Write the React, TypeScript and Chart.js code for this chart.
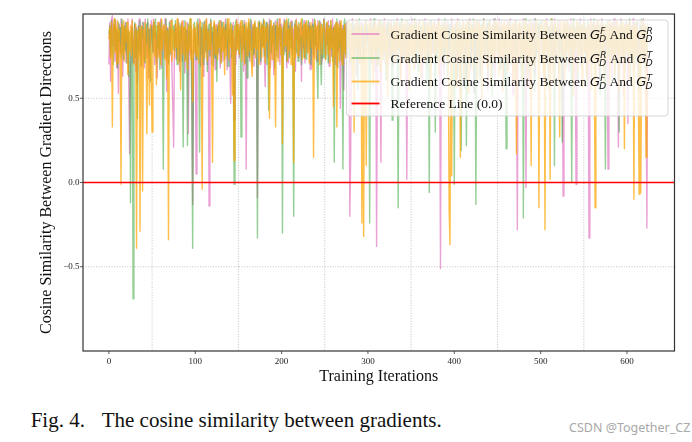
import React, { useEffect, useRef } from "react";
import { Chart, registerables } from "chart.js";

Chart.register(...registerables);

// Values are cosine similarity x100, one per training iteration (0..624)
const pinkFR: number[] = [
  70,95,60,97,99,81,93,72,96,68,89,53,94,77,97,84,63,92,79,95,71,88,97,58,17,
  64,88,97,71,83,94,66,92,59,86,97,75,90,69,95,82,68,97,88,74,95,62,91,80,96,
  93,78,97,70,89,84,62,95,76,91,97,68,85,93,74,97,80,54,92,71,87,96,78,68,45,
  21,88,94,73,92,97,79,66,90,95,72,96,84,65,91,78,95,29,90,76,93,68,-13,77,91,
  86,5,74,94,81,97,69,92,85,63,95,77,88,97,70,91,-14,82,96,70,89,75,93,67,94,
  93,76,95,81,68,96,86,72,92,79,97,84,67,90,94,73,47,90,78,95,37,86,70,97,81,
  90,74,95,84,77,93,66,96,82,8,91,75,94,72,88,96,79,92,69,94,85,73,-9,90,95,
  87,70,93,81,96,76,57,92,95,74,88,97,68,78,93,82,64,91,96,75,92,84,97,70,91,
  94,73,89,97,78,90,68,95,71,93,85,96,76,91,79,94,66,97,85,92,74,82,95,60,93,
  80,96,71,88,93,77,90,95,67,92,68,97,83,74,94,89,72,96,80,92,95,70,73,90,97,
  91,75,94,82,96,69,90,93,75,97,81,92,70,95,69,88,78,96,44,91,93,72,55,94,79,
  95,76,91,84,-20,15,92,97,73,94,81,90,63,96,77,93,70,95,82,91,72,94,79,96,83,
  90,78,94,97,71,92,84,95,66,91,-38,80,93,96,74,12,90,77,94,97,70,92,85,95,70,
  93,75,96,82,69,91,95,74,92,97,79,90,94,62,88,96,73,83,93,77,2,89,95,71,92,
  88,97,74,91,93,68,95,80,86,96,71,92,90,57,94,78,97,83,69,95,73,90,84,96,76,
  92,77,95,86,70,94,81,97,83,-51,91,95,72,64,93,79,96,82,71,94,76,90,97,74,92,
  88,95,61,92,97,74,90,49,94,79,96,72,91,83,58,95,73,93,97,66,90,78,94,53,92,
  95,72,91,80,96,63,93,77,85,97,70,92,79,94,55,91,96,74,89,93,68,97,62,90,94,
  86,73,97,75,90,94,81,59,95,78,84,96,70,67,93,97,76,91,52,94,80,96,72,-28,90,
  95,78,93,68,91,97,74,90,-3,94,81,96,57,92,76,95,81,70,97,64,90,77,94,86,73,
  92,96,75,90,62,94,79,97,70,91,93,56,85,95,74,92,97,70,83,87,94,60,96,78,83,
  88,-8,93,96,72,91,80,95,66,92,97,76,90,58,94,83,-1,95,73,93,79,97,68,85,92,
  96,77,91,63,94,81,-33,92,97,74,90,95,72,93,80,96,71,91,55,94,78,97,86,92,68,
  93,79,85,8,91,96,74,94,61,92,97,76,90,74,95,21,81,93,97,70,91,52,94,78,96,
  90,35,92,96,75,93,82,97,67,91,94,77,95,58,90,96,72,93,79,97,71,92,84,-27,90,
];

const greenRT: number[] = [
  88,93,75,96,82,70,94,97,79,91,68,95,84,92,74,97,90,73,93,78,95,71,91,63,89,
  -12,87,92,-69,80,95,74,91,38,93,78,96,69,92,86,95,73,71,94,82,97,76,91,60,93,
  90,77,95,86,97,71,93,80,94,67,91,96,75,8,90,82,97,74,91,70,95,76,92,97,79,
  93,78,96,84,70,87,95,72,90,94,76,21,92,96,73,90,22,94,81,97,86,45,-39,79,95,
  88,73,93,97,81,18,92,76,95,70,91,96,78,93,66,90,94,75,97,82,92,69,95,74,91,
  60,93,77,96,84,71,95,87,92,73,94,80,97,69,91,83,95,74,93,70,-1,92,96,78,94,
  90,76,93,27,91,96,79,94,71,92,62,89,95,74,97,84,70,93,76,95,81,92,-33,90,96,
  89,72,94,81,97,75,90,95,70,93,43,91,96,77,92,83,95,68,93,79,97,74,92,94,81,
  91,-30,93,76,96,85,72,90,97,74,93,80,95,69,-20,91,96,77,93,72,95,82,87,70,97,
  86,74,92,95,73,91,96,79,93,70,90,94,76,97,81,92,71,50,93,96,78,58,94,74,97,
  84,73,95,88,71,93,79,96,86,72,92,12,94,78,97,68,92,80,95,73,91,8,93,97,76,
  92,74,95,83,70,94,79,96,91,72,93,78,95,55,90,97,74,92,81,94,71,91,96,76,93,
  90,76,-24,92,95,73,93,97,78,91,69,94,70,92,96,77,91,95,73,90,82,61,94,75,96,
  91,74,94,37,90,96,76,93,85,70,-15,95,79,92,97,72,90,94,78,73,93,96,71,91,95,
  89,75,93,86,97,71,95,80,66,92,96,74,93,79,91,95,72,92,58,94,80,-6,96,77,93,
  91,77,95,30,92,72,96,84,71,93,88,75,94,70,97,76,92,63,95,79,93,73,96,82,91,
  -1,93,78,95,62,91,96,73,19,92,80,95,56,93,22,90,96,74,92,68,94,79,97,53,91,
  -13,92,96,74,90,59,94,78,93,97,72,91,80,95,64,92,96,75,90,51,94,77,97,83,91,
  95,76,92,67,96,80,86,93,57,91,20,94,74,96,84,92,70,95,78,87,93,61,96,75,92,
  88,94,73,58,95,-21,92,97,76,91,93,65,80,96,71,84,94,79,54,97,74,91,95,71,93,
  90,96,75,93,62,91,95,78,94,55,92,74,97,74,90,93,10,95,77,92,96,66,91,80,86,
  24,92,95,76,93,68,96,80,87,94,73,0,93,97,75,92,81,95,60,91,96,74,93,77,94,
  90,95,74,92,57,96,79,93,91,70,94,76,97,63,92,80,95,73,93,52,91,96,78,94,72,
  8,93,96,75,91,94,72,90,95,77,92,59,96,79,93,71,30,94,80,96,74,92,90,66,95,
  91,76,94,97,62,90,93,74,95,81,70,92,96,78,55,93,80,97,73,91,94,68,92,77,95,
];

const orangeFT: number[] = [
  85,92,74,95,33,90,97,77,93,70,96,71,91,80,-1,94,76,96,72,92,84,95,64,90,78,
  93,75,96,83,70,87,94,-39,90,74,92,-29,78,93,-5,91,72,95,80,29,92,76,46,94,73,
  30,91,96,75,93,58,82,95,74,92,70,97,79,91,94,73,93,62,90,-34,92,77,96,72,91,
  89,74,94,80,97,71,90,93,55,91,96,76,92,72,95,81,67,93,78,97,73,91,48,94,77,
  92,75,95,80,71,93,96,77,-4,91,94,74,92,97,72,90,79,88,95,70,12,91,96,76,93,
  86,73,94,80,96,71,92,78,95,64,91,75,93,97,73,92,80,94,52,90,13,93,76,96,79,
  94,76,92,96,72,91,93,70,90,95,75,92,97,78,91,71,63,94,80,96,74,92,79,95,70,
  91,95,74,93,80,96,71,92,84,94,75,38,92,96,73,91,94,78,33,90,95,72,93,97,76,
  92,23,76,95,81,93,97,72,91,78,95,70,92,84,12,93,74,96,91,75,94,79,92,97,73,
  90,94,74,92,96,77,93,71,91,95,80,92,15,90,96,73,93,79,95,70,91,94,76,92,96,
  88,73,90,95,76,92,71,96,80,91,45,93,75,95,33,90,94,72,92,96,70,91,77,94,74,
  93,76,95,80,91,72,94,62,90,30,92,96,74,91,94,71,90,93,-24,78,-32,91,95,10,79,
  94,75,92,96,72,91,58,93,77,95,70,92,81,96,66,91,94,73,93,78,95,71,87,51,92,
  89,95,72,92,78,94,71,91,96,74,93,80,92,60,95,76,91,94,72,96,82,70,93,55,91,
  94,76,92,67,96,73,87,93,78,95,84,62,92,74,96,79,71,94,73,91,95,77,92,57,93,
  90,95,74,92,78,94,91,64,96,75,93,70,92,95,80,91,73,94,76,-16,-37,90,4,93,78,
  94,76,56,92,96,73,91,15,93,77,95,62,90,94,74,96,53,91,75,95,84,92,67,90,96,
  88,93,60,91,95,75,92,49,94,73,96,85,77,68,93,79,95,58,92,74,94,72,90,96,76,
  92,95,63,90,75,94,54,91,96,73,93,80,66,95,77,92,72,94,59,91,96,78,17,93,74,
  95,74,92,80,61,94,77,96,72,92,57,93,76,95,10,91,94,73,69,92,96,79,85,-15,93,
  89,94,75,64,96,-28,92,78,95,72,86,2,93,97,76,58,91,95,74,92,94,71,27,90,96,
  91,75,95,60,92,96,77,93,70,91,94,73,92,52,95,79,88,96,65,92,76,94,91,57,93,
  95,77,92,81,62,94,72,87,96,55,92,75,95,-15,91,94,73,96,68,90,93,74,95,59,92,
  90,94,73,92,96,58,91,77,95,72,93,64,90,96,76,92,54,94,80,73,95,91,20,93,78,
  94,76,92,61,96,79,73,93,-10,91,95,75,92,66,-7,90,-6,93,96,74,91,94,15,90,93,
];

const xTickValues = [0, 100, 200, 300, 400, 500, 600];
const xGridValues = [50, 150, 250, 350, 450, 550];
const yTickValues = [-0.5, 0, 0.5];
const yGridValues = [-0.5, 0.5];
const referenceValue = 0;
const xLimits = [-30, 655];
const yLimits = [-1, 1];

const legendPrefix = "Gradient Cosine Similarity Between ";
const legendPairs: [string, string][] = [["F", "R"], ["R", "T"], ["F", "T"]];
const referenceLabel = "Reference Line (0.0)";
const xTitle = "Training Iterations";
const yTitle = "Cosine Similarity Between Gradient Directions";
const captionLabel = "Fig. 4.";
const captionText = "The cosine similarity between gradients.";
const watermarkText = "CSDN @Together_CZ";

const PINK = "rgba(227,119,194,0.7)";
const GREEN = "rgba(44,160,44,0.5)";
const ORANGE = "rgba(255,165,0,0.72)";
const RED = "#ff0000";
const SERIF = '"Liberation Serif", "Times New Roman", Times, serif';
const MATH = '"DejaVu Sans", sans-serif';

const toPoints = (arr: number[]) => arr.map((v, i) => ({ x: i, y: v / 100 }));

function drawMathG(ctx: CanvasRenderingContext2D, x: number, base: number, sup: string) {
  ctx.font = `oblique 13px ${MATH}`;
  ctx.fillText("G", x, base);
  const wG = ctx.measureText("G").width;
  ctx.font = `oblique 9px ${MATH}`;
  ctx.fillText(sup, x + wG + 0.2, base - 4.6);
  ctx.fillText("D", x + wG - 0.8, base + 3.2);
  const w = Math.max(ctx.measureText(sup).width + 0.2, ctx.measureText("D").width - 0.8);
  return wG + w;
}

const decorPlugin = {
  id: "decor",
  beforeDatasetsDraw(chart: any) {
    const { ctx, chartArea } = chart;
    const xs = chart.scales.x;
    const ys = chart.scales.y;
    ctx.save();
    ctx.strokeStyle = "#b4b4b4";
    ctx.lineWidth = 0.8;
    ctx.setLineDash([1, 1.6]);
    for (const v of xGridValues) {
      const px = xs.getPixelForValue(v);
      ctx.beginPath();
      ctx.moveTo(px, chartArea.top);
      ctx.lineTo(px, chartArea.bottom);
      ctx.stroke();
    }
    for (const v of yGridValues) {
      const py = ys.getPixelForValue(v);
      ctx.beginPath();
      ctx.moveTo(chartArea.left, py);
      ctx.lineTo(chartArea.right, py);
      ctx.stroke();
    }
    ctx.restore();
  },
  afterDatasetsDraw(chart: any) {
    const { ctx, chartArea } = chart;
    const xs = chart.scales.x;
    const ys = chart.scales.y;
    const { left, top, right, bottom } = chartArea;
    ctx.save();
    ctx.strokeStyle = "#333333";
    ctx.lineWidth = 1.2;
    ctx.strokeRect(left, top, right - left, bottom - top);
    ctx.lineWidth = 0.8;
    for (const v of xTickValues) {
      const px = xs.getPixelForValue(v);
      ctx.beginPath();
      ctx.moveTo(px, bottom);
      ctx.lineTo(px, bottom + 3);
      ctx.stroke();
    }
    for (const v of yTickValues) {
      const py = ys.getPixelForValue(v);
      ctx.beginPath();
      ctx.moveTo(left - 3, py);
      ctx.lineTo(left, py);
      ctx.stroke();
    }

    // legend
    const textFont = `13.5px ${SERIF}`;
    ctx.font = textFont;
    const prefixW = ctx.measureText(legendPrefix).width;
    const andW = ctx.measureText(" And ").width;
    const mathW = 21;
    const contentW = prefixW + mathW + andW + mathW;
    const boxRight = right - 6.5;
    const boxLeft = boxRight - (5 + 28 + 11 + contentW + 6);
    const boxTop = top + 6;
    const boxH = 96;
    ctx.beginPath();
    ctx.roundRect(boxLeft, boxTop, boxRight - boxLeft, boxH, 3);
    ctx.fillStyle = "rgba(255,255,255,0.8)";
    ctx.fill();
    ctx.strokeStyle = "rgba(204,204,204,0.8)";
    ctx.lineWidth = 1;
    ctx.stroke();

    const baselines = [18.5, 42.5, 66, 88];
    const colors = [PINK, GREEN, ORANGE, RED];
    for (let i = 0; i < 4; i++) {
      const base = boxTop + baselines[i];
      const ly = base - 4.5;
      ctx.strokeStyle = colors[i];
      ctx.lineWidth = 1.8;
      ctx.beginPath();
      ctx.moveTo(boxLeft + 5, ly);
      ctx.lineTo(boxLeft + 33, ly);
      ctx.stroke();
      ctx.fillStyle = "#111";
      ctx.textBaseline = "alphabetic";
      ctx.textAlign = "left";
      let x = boxLeft + 44;
      if (i < 3) {
        ctx.font = textFont;
        ctx.fillText(legendPrefix, x, base);
        x += prefixW;
        x += drawMathG(ctx, x, base, legendPairs[i][0]);
        ctx.font = textFont;
        ctx.fillText(" And ", x, base);
        x += andW;
        drawMathG(ctx, x, base, legendPairs[i][1]);
      } else {
        ctx.font = textFont;
        ctx.fillText(referenceLabel, x, base);
      }
    }
    ctx.restore();
  },
};

export default function App() {
  const ref = useRef<HTMLCanvasElement>(null);
  useEffect(() => {
    if (!ref.current) return;
    const lineDefaults = { borderWidth: 1.4, pointRadius: 0, borderJoinStyle: "round" };
    const chart = new Chart(ref.current, {
      type: "line",
      data: {
        datasets: [
          { label: "FR", data: toPoints(pinkFR), borderColor: PINK, order: 3, ...lineDefaults },
          { label: "RT", data: toPoints(greenRT), borderColor: GREEN, order: 2, ...lineDefaults },
          { label: "FT", data: toPoints(orangeFT), borderColor: ORANGE, order: 1, ...lineDefaults },
          {
            label: referenceLabel,
            data: [{ x: xLimits[0], y: referenceValue }, { x: xLimits[1], y: referenceValue }],
            borderColor: RED, borderWidth: 1.5, pointRadius: 0, order: 0,
          },
        ],
      } as any,
      options: {
        responsive: false,
        devicePixelRatio: 1,
        animation: false,
        events: [],
        layout: { padding: { left: 0, top: 14, right: 17.5, bottom: 0 } },
        plugins: { legend: { display: false }, tooltip: { enabled: false } },
        scales: {
          x: {
            type: "linear",
            min: xLimits[0],
            max: xLimits[1],
            grid: { display: false, drawTicks: false, tickLength: 0 },
            border: { display: false },
            afterBuildTicks: (s: any) => { s.ticks = xTickValues.map((v) => ({ value: v })); },
            afterFit: (s: any) => { s.height = 49; },
            ticks: {
              autoSkip: false, maxRotation: 0, padding: 5.5, color: "#222",
              font: { family: SERIF, size: 9 },
              callback: (v: any) => String(v),
            },
            title: {
              display: true, text: xTitle, color: "#111",
              font: { family: SERIF, size: 16 }, padding: { top: 0, bottom: 14 },
            },
          },
          y: {
            type: "linear",
            min: yLimits[0],
            max: yLimits[1],
            grid: { display: false, drawTicks: false, tickLength: 0 },
            border: { display: false },
            afterBuildTicks: (s: any) => { s.ticks = yTickValues.map((v) => ({ value: v })); },
            afterFit: (s: any) => { s.width = 83; },
            ticks: {
              autoSkip: false, padding: 3.5, color: "#222",
              font: { family: SERIF, size: 9 },
              callback: (v: any) => (v < 0 ? "\u2212" : "") + Math.abs(Number(v)).toFixed(1),
            },
            title: {
              display: true, text: yTitle, color: "#111",
              font: { family: SERIF, size: 16 }, padding: { top: 37.5, bottom: 0 },
            },
          },
        },
      } as any,
      plugins: [decorPlugin],
    });
    return () => chart.destroy();
  }, []);

  const textStyle: React.CSSProperties = {
    position: "absolute",
    fontFamily: SERIF,
    fontSize: 21,
    lineHeight: "21px",
    color: "#111",
    whiteSpace: "pre",
  };

  return (
    <div style={{ position: "absolute", left: 0, top: 0, width: 692, height: 442, background: "#fff", overflow: "hidden" }}>
      <canvas ref={ref} width={692} height={400} style={{ position: "absolute", left: 0, top: 0, width: 692, height: 400 }} />
      <span style={{ ...textStyle, left: 30.7, top: 410.4 }}>{captionLabel}</span>
      <span style={{ ...textStyle, left: 101.7, top: 410.4 }}>{captionText}</span>
      <span
        style={{
          position: "absolute", left: 569, top: 422.4, fontFamily: '"Noto Sans", sans-serif',
          fontSize: 12.5, lineHeight: "12.5px", color: "#a8a8a8", whiteSpace: "pre",
        }}
      >
        {watermarkText}
      </span>
    </div>
  );
}
